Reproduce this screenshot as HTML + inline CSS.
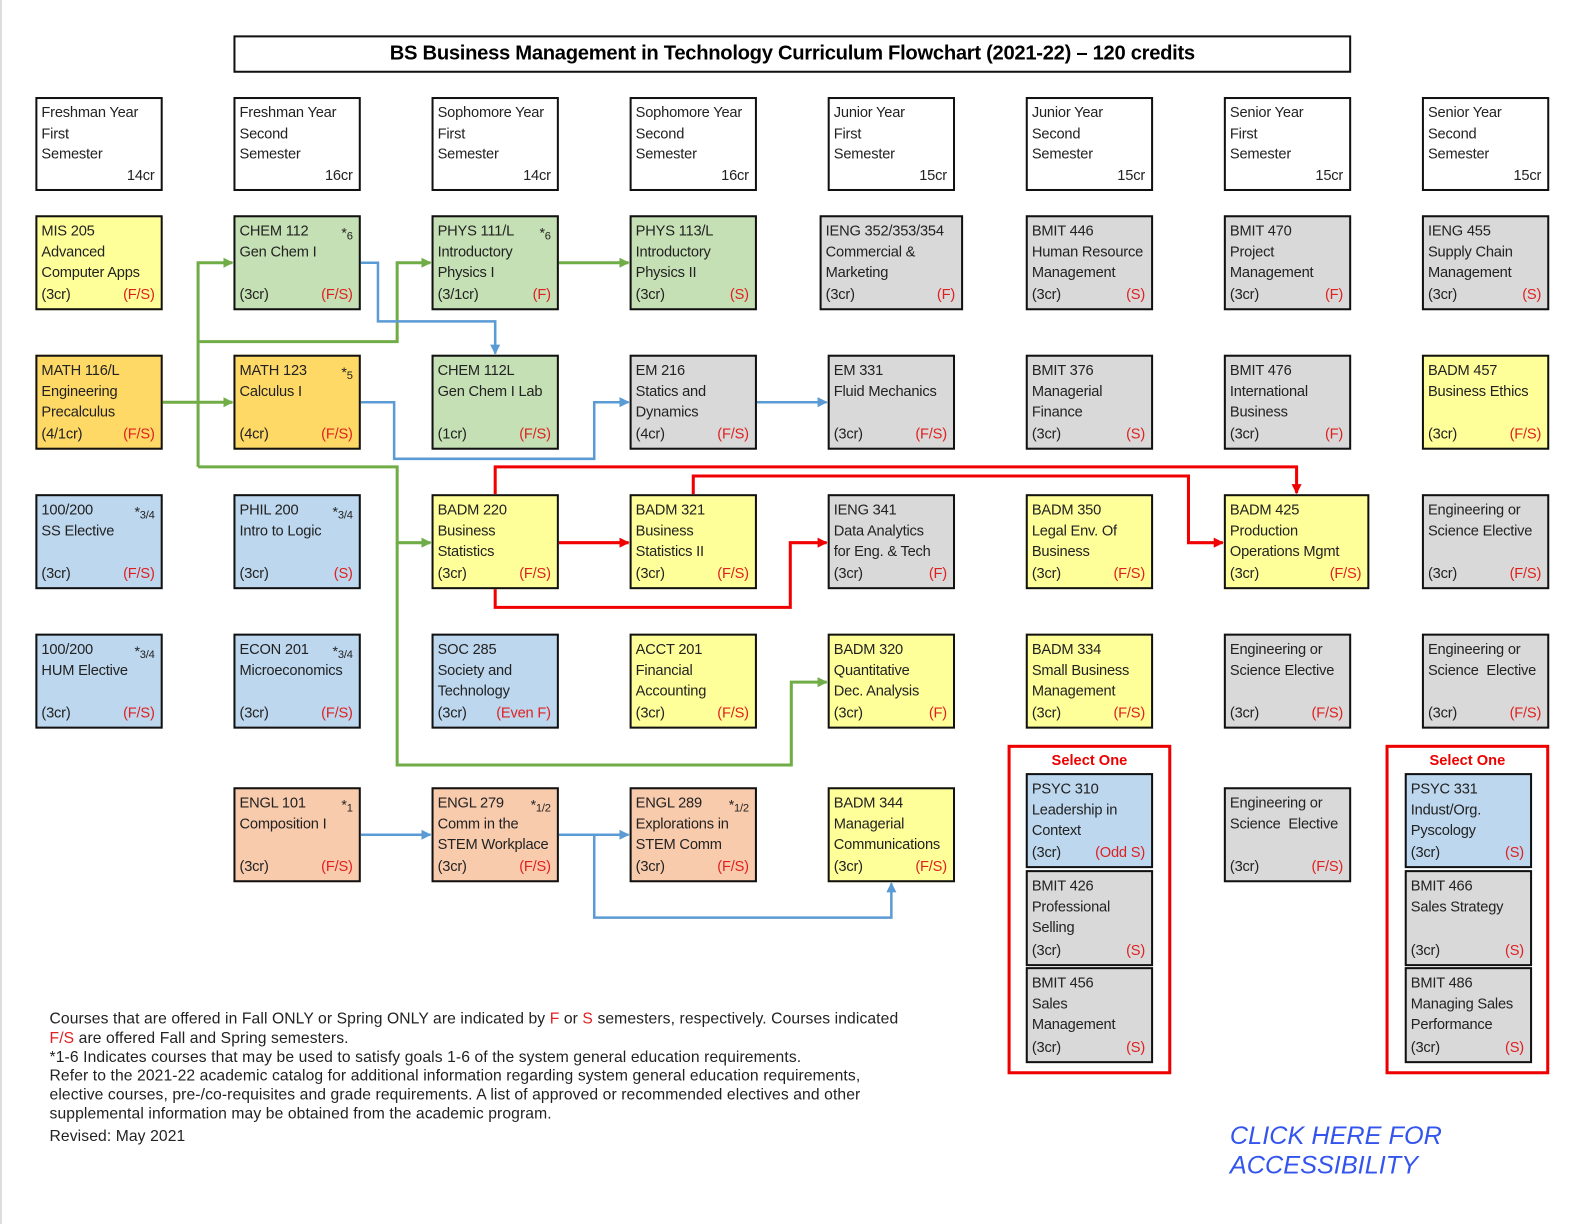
<!DOCTYPE html>
<html><head><meta charset="utf-8">
<style>
body{margin:0;background:#fff}
#p{position:relative;width:1584px;height:1224px;overflow:hidden;font-family:"Liberation Sans",sans-serif;background:#fff;border-left:2px solid #ddd;box-sizing:border-box}
#c{position:absolute;left:-2px;top:0;width:1584px;height:1224px;transform:scale(1.0106);transform-origin:0 0}
.b{position:absolute;box-sizing:border-box;border:2px solid #111;padding:4px 4px 2px;font-size:14.5px;line-height:20.5px;color:#222;letter-spacing:-0.2px;width:126px;height:94px}
.b .l{position:absolute;left:4px;right:6px;bottom:3px}
.b .r{float:right;color:#e02020}
.b .s{position:absolute;right:6px;top:5px;font-size:14px}
.b .s sub{font-size:11px;vertical-align:-2px}
.h{height:93px}
.h .l{text-align:right}
.y{background:#ffff99}.o{background:#ffd966}.g{background:#c5e0b4}.u{background:#bdd7ee}.x{background:#d9d9d9}.a{background:#f8cbad}.w{background:#fff}
.sel{position:absolute;border:3px solid #e00;box-sizing:border-box}
.sel .t{position:absolute;top:5px;left:0;right:0;text-align:center;color:#e00;font-weight:bold;font-size:14.5px}
svg{position:absolute;left:0;top:0}
.foot{position:absolute;left:49px;top:1000px;font-size:15.5px;line-height:18.8px;color:#222;letter-spacing:0.1px}
.red{color:#e02020}
</style></head><body><div id="p"><div id="c">
<div style="position:absolute;left:231px;top:35px;width:1106px;height:37px;box-sizing:border-box;border:2px solid #111;text-align:center;font-weight:bold;font-size:20px;line-height:33px;letter-spacing:-0.3px">BS Business Management in Technology Curriculum Flowchart (2021-22) – 120 credits</div>

<svg width="1584" height="1224">
<defs>
<marker id="ag" markerWidth="10" markerHeight="10" refX="9" refY="5" orient="auto" markerUnits="userSpaceOnUse" viewBox="0 0 10 10"><path d="M0,0L10,5L0,10z" fill="#70ad47"/></marker>
<marker id="ab" markerWidth="10" markerHeight="10" refX="9" refY="5" orient="auto" markerUnits="userSpaceOnUse" viewBox="0 0 10 10"><path d="M0,0L10,5L0,10z" fill="#5b9bd5"/></marker>
<marker id="ar" markerWidth="10" markerHeight="10" refX="9" refY="5" orient="auto" markerUnits="userSpaceOnUse" viewBox="0 0 10 10"><path d="M0,0L10,5L0,10z" fill="#f00000"/></marker>
</defs>
<g fill="none" stroke-width="3">
<g stroke="#70ad47" marker-end="url(#ag)">
<path d="M161,398H230"/>
<path d="M196,462V260H230"/>
<path d="M196,338H393V260H426"/>
<path d="M196,462H393V537H426"/>
<path d="M393,537V757H783V675H818"/>
<path d="M553,260H622"/>
</g>
<g stroke="#5b9bd5" stroke-width="2.5" marker-end="url(#ab)">
<path d="M357,260H374V318H490V350"/>
<path d="M357,398H390V454H588V398H622"/>
<path d="M749,398H818"/>
<path d="M357,826H426"/>
<path d="M553,826H622"/>
<path d="M588,826V908H882V874"/>
</g>
<g stroke="#f00000" marker-end="url(#ar)">
<path d="M553,537H622"/>
<path d="M490,489V462H1283V488"/>
<path d="M686,489V471H1176V537H1210"/>
<path d="M490,583V601H782V537H818"/>
</g>
</g>
</svg>

<div class="b w h" style="left:35px;top:96px">Freshman Year<br>First<br>Semester<div class="l">14cr</div></div>
<div class="b w h" style="left:231px;top:96px">Freshman Year<br>Second<br>Semester<div class="l">16cr</div></div>
<div class="b w h" style="left:427px;top:96px">Sophomore Year<br>First<br>Semester<div class="l">14cr</div></div>
<div class="b w h" style="left:623px;top:96px">Sophomore Year<br>Second<br>Semester<div class="l">16cr</div></div>
<div class="b w h" style="left:819px;top:96px">Junior Year<br>First<br>Semester<div class="l">15cr</div></div>
<div class="b w h" style="left:1015px;top:96px">Junior Year<br>Second<br>Semester<div class="l">15cr</div></div>
<div class="b w h" style="left:1211px;top:96px">Senior Year<br>First<br>Semester<div class="l">15cr</div></div>
<div class="b w h" style="left:1407px;top:96px">Senior Year<br>Second<br>Semester<div class="l">15cr</div></div>

<div class="b y" style="left:35px;top:213px">MIS 205<br>Advanced<br>Computer Apps<div class="l">(3cr)<span class="r">(F/S)</span></div></div>
<div class="b g" style="left:231px;top:213px">CHEM 112<br>Gen Chem I<span class="s">*<sub>6</sub></span><div class="l">(3cr)<span class="r">(F/S)</span></div></div>
<div class="b g" style="left:427px;top:213px">PHYS 111/L<br>Introductory<br>Physics I<span class="s">*<sub>6</sub></span><div class="l">(3/1cr)<span class="r">(F)</span></div></div>
<div class="b g" style="left:623px;top:213px">PHYS 113/L<br>Introductory<br>Physics II<div class="l">(3cr)<span class="r">(S)</span></div></div>
<div class="b x" style="left:811px;top:213px;width:142px">IENG 352/353/354<br>Commercial &amp;<br>Marketing<div class="l">(3cr)<span class="r">(F)</span></div></div>
<div class="b x" style="left:1015px;top:213px">BMIT 446<br>Human Resource<br>Management<div class="l">(3cr)<span class="r">(S)</span></div></div>
<div class="b x" style="left:1211px;top:213px">BMIT 470<br>Project<br>Management<div class="l">(3cr)<span class="r">(F)</span></div></div>
<div class="b x" style="left:1407px;top:213px">IENG 455<br>Supply Chain<br>Management<div class="l">(3cr)<span class="r">(S)</span></div></div>

<div class="b o" style="left:35px;top:351px">MATH 116/L<br>Engineering<br>Precalculus<div class="l">(4/1cr)<span class="r">(F/S)</span></div></div>
<div class="b o" style="left:231px;top:351px">MATH 123<br>Calculus I<span class="s">*<sub>5</sub></span><div class="l">(4cr)<span class="r">(F/S)</span></div></div>
<div class="b g" style="left:427px;top:351px">CHEM 112L<br>Gen Chem I Lab<div class="l">(1cr)<span class="r">(F/S)</span></div></div>
<div class="b x" style="left:623px;top:351px">EM 216<br>Statics and<br>Dynamics<div class="l">(4cr)<span class="r">(F/S)</span></div></div>
<div class="b x" style="left:819px;top:351px">EM 331<br>Fluid Mechanics<div class="l">(3cr)<span class="r">(F/S)</span></div></div>
<div class="b x" style="left:1015px;top:351px">BMIT 376<br>Managerial<br>Finance<div class="l">(3cr)<span class="r">(S)</span></div></div>
<div class="b x" style="left:1211px;top:351px">BMIT 476<br>International<br>Business<div class="l">(3cr)<span class="r">(F)</span></div></div>
<div class="b y" style="left:1407px;top:351px">BADM 457<br>Business Ethics<div class="l">(3cr)<span class="r">(F/S)</span></div></div>

<div class="b u" style="left:35px;top:489px">100/200<br>SS Elective<span class="s">*<sub>3/4</sub></span><div class="l">(3cr)<span class="r">(F/S)</span></div></div>
<div class="b u" style="left:231px;top:489px">PHIL 200<br>Intro to Logic<span class="s">*<sub>3/4</sub></span><div class="l">(3cr)<span class="r">(S)</span></div></div>
<div class="b y" style="left:427px;top:489px">BADM 220<br>Business<br>Statistics<div class="l">(3cr)<span class="r">(F/S)</span></div></div>
<div class="b y" style="left:623px;top:489px">BADM 321<br>Business<br>Statistics II<div class="l">(3cr)<span class="r">(F/S)</span></div></div>
<div class="b x" style="left:819px;top:489px">IENG 341<br>Data Analytics<br>for Eng. &amp; Tech<div class="l">(3cr)<span class="r">(F)</span></div></div>
<div class="b y" style="left:1015px;top:489px">BADM 350<br>Legal Env. Of<br>Business<div class="l">(3cr)<span class="r">(F/S)</span></div></div>
<div class="b y" style="left:1211px;top:489px;width:144px">BADM 425<br>Production<br>Operations Mgmt<div class="l">(3cr)<span class="r">(F/S)</span></div></div>
<div class="b x" style="left:1407px;top:489px">Engineering or<br>Science Elective<div class="l">(3cr)<span class="r">(F/S)</span></div></div>

<div class="b u" style="left:35px;top:627px">100/200<br>HUM Elective<span class="s">*<sub>3/4</sub></span><div class="l">(3cr)<span class="r">(F/S)</span></div></div>
<div class="b u" style="left:231px;top:627px">ECON 201<br>Microeconomics<span class="s">*<sub>3/4</sub></span><div class="l">(3cr)<span class="r">(F/S)</span></div></div>
<div class="b u" style="left:427px;top:627px">SOC 285<br>Society and<br>Technology<div class="l">(3cr)<span class="r">(Even F)</span></div></div>
<div class="b y" style="left:623px;top:627px">ACCT 201<br>Financial<br>Accounting<div class="l">(3cr)<span class="r">(F/S)</span></div></div>
<div class="b y" style="left:819px;top:627px">BADM 320<br>Quantitative<br>Dec. Analysis<div class="l">(3cr)<span class="r">(F)</span></div></div>
<div class="b y" style="left:1015px;top:627px">BADM 334<br>Small Business<br>Management<div class="l">(3cr)<span class="r">(F/S)</span></div></div>
<div class="b x" style="left:1211px;top:627px">Engineering or<br>Science Elective<div class="l">(3cr)<span class="r">(F/S)</span></div></div>
<div class="b x" style="left:1407px;top:627px">Engineering or<br>Science&nbsp; Elective<div class="l">(3cr)<span class="r">(F/S)</span></div></div>

<div class="b a" style="left:231px;top:779px">ENGL 101<br>Composition I<span class="s">*<sub>1</sub></span><div class="l">(3cr)<span class="r">(F/S)</span></div></div>
<div class="b a" style="left:427px;top:779px">ENGL 279<br>Comm in the<br>STEM Workplace<span class="s">*<sub>1/2</sub></span><div class="l">(3cr)<span class="r">(F/S)</span></div></div>
<div class="b a" style="left:623px;top:779px">ENGL 289<br>Explorations in<br>STEM Comm<span class="s">*<sub>1/2</sub></span><div class="l">(3cr)<span class="r">(F/S)</span></div></div>
<div class="b y" style="left:819px;top:779px">BADM 344<br>Managerial<br>Communications<div class="l">(3cr)<span class="r">(F/S)</span></div></div>
<div class="b x" style="left:1211px;top:779px">Engineering or<br>Science&nbsp; Elective<div class="l">(3cr)<span class="r">(F/S)</span></div></div>

<div class="sel" style="left:997px;top:737px;width:162px;height:326px"><div class="t">Select One</div></div>
<div class="b u" style="left:1015px;top:765px">PSYC 310<br>Leadership in<br>Context<div class="l">(3cr)<span class="r">(Odd S)</span></div></div>
<div class="b x" style="left:1015px;top:861px;height:95px">BMIT 426<br>Professional<br>Selling<div class="l">(3cr)<span class="r">(S)</span></div></div>
<div class="b x" style="left:1015px;top:957px;height:95px">BMIT 456<br>Sales<br>Management<div class="l">(3cr)<span class="r">(S)</span></div></div>

<div class="sel" style="left:1371px;top:737px;width:162px;height:326px"><div class="t">Select One</div></div>
<div class="b u" style="left:1390px;top:765px">PSYC 331<br>Indust/Org.<br>Pyscology<div class="l">(3cr)<span class="r">(S)</span></div></div>
<div class="b x" style="left:1390px;top:861px;height:95px">BMIT 466<br>Sales Strategy<div class="l">(3cr)<span class="r">(S)</span></div></div>
<div class="b x" style="left:1390px;top:957px;height:95px">BMIT 486<br>Managing Sales<br>Performance<div class="l">(3cr)<span class="r">(S)</span></div></div>

<div class="foot">Courses that are offered in Fall ONLY or Spring ONLY are indicated by <span class="red">F</span> or <span class="red">S</span> semesters, respectively. Courses indicated<br><span class="red">F/S</span> are offered Fall and Spring semesters.<br>*1-6 Indicates courses that may be used to satisfy goals 1-6 of the system general education requirements.<br>Refer to the 2021-22 academic catalog for additional information regarding system general education requirements,<br>elective courses, pre-/co-requisites and grade requirements. A list of approved or recommended electives and other<br>supplemental information may be obtained from the academic program.<br><div style="margin-top:3px">Revised: May 2021</div></div>

<div style="position:absolute;left:1217px;top:1110px;color:#3355ee;font-style:italic;font-size:25px;line-height:29px">CLICK HERE FOR<br>ACCESSIBILITY</div>
</div></div></body></html>
